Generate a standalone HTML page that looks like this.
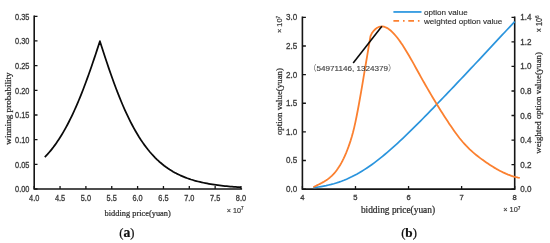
<!DOCTYPE html>
<html lang="en"><head><meta charset="utf-8"><title>Figure: winning probability and option value vs bidding price</title>
<style>
html,body{margin:0;padding:0;background:#fff;}
body{width:550px;height:243px;overflow:hidden;}
svg{display:block;}
.s{font-family:"Liberation Sans", "Noto Sans CJK SC", sans-serif;fill:#3a3a3a;stroke:#3a3a3a;stroke-width:0.2;}
.t{font-family:"Liberation Serif", "Noto Serif CJK SC", serif;fill:#2a2a2a;stroke:#2a2a2a;stroke-width:0.22;}
.ax{fill:none;stroke:#151515;stroke-width:1.6;stroke-linecap:square;}
.tk{fill:none;stroke:#151515;stroke-width:1.3;}
</style></head><body>
<svg width="550" height="243" viewBox="0 0 550 243">
<rect x="0" y="0" width="550" height="243" fill="#ffffff"/>
<g id="chart-a">
<path class="ax" d="M34.2,16.3 V189.0 H241.3"/>
<path class="tk" d="M34.2,189.00 h3.3 M34.2,164.33 h3.3 M34.2,139.66 h3.3 M34.2,114.99 h3.3 M34.2,90.31 h3.3 M34.2,65.64 h3.3 M34.2,40.97 h3.3 M34.2,16.30 h3.3 M34.20,189.0 v-3 M60.05,189.0 v-3 M85.90,189.0 v-3 M111.75,189.0 v-3 M137.60,189.0 v-3 M163.45,189.0 v-3 M189.30,189.0 v-3 M215.15,189.0 v-3 M241.00,189.0 v-3"/>
<g class="s" font-size="8.2" text-anchor="end" style="stroke-width:0.3">
<text transform="translate(29.4,192.20) scale(0.9,1)">0.00</text>
<text transform="translate(29.4,167.53) scale(0.9,1)">0.05</text>
<text transform="translate(29.4,142.86) scale(0.9,1)">0.10</text>
<text transform="translate(29.4,118.19) scale(0.9,1)">0.15</text>
<text transform="translate(29.4,93.51) scale(0.9,1)">0.20</text>
<text transform="translate(29.4,68.84) scale(0.9,1)">0.25</text>
<text transform="translate(29.4,44.17) scale(0.9,1)">0.30</text>
<text transform="translate(29.4,19.50) scale(0.9,1)">0.35</text>
</g>
<g class="s" font-size="8.2" text-anchor="middle" style="stroke-width:0.3">
<text transform="translate(34.20,201.1) scale(0.9,1)">4.0</text>
<text transform="translate(60.05,201.1) scale(0.9,1)">4.5</text>
<text transform="translate(85.90,201.1) scale(0.9,1)">5.0</text>
<text transform="translate(111.75,201.1) scale(0.9,1)">5.5</text>
<text transform="translate(137.60,201.1) scale(0.9,1)">6.0</text>
<text transform="translate(163.45,201.1) scale(0.9,1)">6.5</text>
<text transform="translate(189.30,201.1) scale(0.9,1)">7.0</text>
<text transform="translate(215.15,201.1) scale(0.9,1)">7.5</text>
<text transform="translate(241.00,201.1) scale(0.9,1)">8.0</text>
</g>
<text class="s" font-size="7.2" x="226.8" y="212.5">× 10<tspan font-size="4.6" dy="-2.1">7</tspan></text>
<text class="t" font-size="7.5" text-anchor="middle" transform="translate(10.5,108.5) rotate(-90) scale(1.22,1)">winning probability</text>
<text class="t" font-size="9.1" text-anchor="middle" transform="translate(137.7,215.7) scale(0.92,1)">bidding price(yuan)</text>
<text class="t" font-size="12.6" text-anchor="middle" x="126.8" y="236.6" style="fill:#111;stroke:#111">(<tspan font-weight="bold" font-size="13.6">a</tspan>)</text>
<path d="M44.80,157.17 L46.21,155.69 L47.63,154.14 L49.04,152.52 L50.45,150.84 L51.86,149.09 L53.28,147.27 L54.69,145.37 L56.10,143.40 L57.52,141.35 L58.93,139.22 L60.34,137.01 L61.75,134.72 L63.17,132.35 L64.58,129.89 L65.99,127.35 L67.41,124.72 L68.82,122.00 L70.23,119.20 L71.64,116.30 L73.06,113.32 L74.47,110.24 L75.88,107.08 L77.29,103.83 L78.71,100.49 L80.12,97.06 L81.53,93.55 L82.95,89.95 L84.36,86.27 L85.77,82.50 L87.18,78.66 L88.60,74.75 L90.01,70.76 L91.42,66.70 L92.84,62.58 L94.25,58.40 L95.66,54.17 L97.07,49.89 L98.49,45.56 L99.90,41.20 L101.69,46.77 L103.47,52.29 L105.26,57.73 L107.04,63.09 L108.83,68.36 L110.62,73.52 L112.40,78.56 L114.19,83.47 L115.97,88.25 L117.76,92.90 L119.55,97.40 L121.33,101.76 L123.12,105.97 L124.91,110.03 L126.69,113.94 L128.48,117.70 L130.26,121.31 L132.05,124.77 L133.84,128.09 L135.62,131.27 L137.41,134.31 L139.19,137.21 L140.98,139.98 L142.77,142.62 L144.55,145.13 L146.34,147.52 L148.12,149.80 L149.91,151.96 L151.70,154.01 L153.48,155.96 L155.27,157.81 L157.05,159.56 L158.84,161.22 L160.63,162.79 L162.41,164.28 L164.20,165.69 L165.98,167.02 L167.77,168.28 L169.56,169.47 L171.34,170.59 L173.13,171.65 L174.92,172.65 L176.70,173.60 L178.49,174.49 L180.27,175.33 L182.06,176.12 L183.85,176.87 L185.63,177.58 L187.42,178.25 L189.20,178.87 L190.99,179.47 L192.78,180.02 L194.56,180.55 L196.35,181.04 L198.13,181.51 L199.92,181.95 L201.71,182.37 L203.49,182.76 L205.28,183.12 L207.06,183.47 L208.85,183.80 L210.64,184.11 L212.42,184.40 L214.21,184.67 L215.99,184.93 L217.78,185.17 L219.57,185.40 L221.35,185.61 L223.14,185.82 L224.93,186.01 L226.71,186.19 L228.50,186.36 L230.28,186.52 L232.07,186.67 L233.86,186.81 L235.64,186.94 L237.43,187.07 L239.21,187.19 L241.00,187.30" fill="none" stroke="#0a0a0a" stroke-width="1.75" stroke-linejoin="round" stroke-linecap="butt"/>
</g>
<g id="chart-b">
<path class="ax" d="M302.4,17.4 V189.1 H514.7 V17.4"/>
<path class="tk" d="M302.4,189.10 h3.5 M302.4,160.48 h3.5 M302.4,131.87 h3.5 M302.4,103.25 h3.5 M302.4,74.63 h3.5 M302.4,46.02 h3.5 M302.4,17.40 h3.5 M514.7,189.10 h-3.2 M514.7,164.57 h-3.2 M514.7,140.04 h-3.2 M514.7,115.51 h-3.2 M514.7,90.99 h-3.2 M514.7,66.46 h-3.2 M514.7,41.93 h-3.2 M514.7,17.40 h-3.2 M302.40,189.1 v-3 M355.48,189.1 v-3 M408.55,189.1 v-3 M461.62,189.1 v-3 M514.70,189.1 v-3"/>
<g class="s" font-size="8.6" text-anchor="end" style="stroke-width:0.3">
<text transform="translate(297.3,192.10) scale(0.94,1)">0.0</text>
<text transform="translate(297.3,163.48) scale(0.94,1)">0.5</text>
<text transform="translate(297.3,134.87) scale(0.94,1)">1.0</text>
<text transform="translate(297.3,106.25) scale(0.94,1)">1.5</text>
<text transform="translate(297.3,77.63) scale(0.94,1)">2.0</text>
<text transform="translate(297.3,49.02) scale(0.94,1)">2.5</text>
<text transform="translate(297.3,20.40) scale(0.94,1)">3.0</text>
</g>
<g class="s" font-size="8.6" text-anchor="start" style="stroke-width:0.3">
<text transform="translate(520.3,192.10) scale(0.94,1)">0.0</text>
<text transform="translate(520.3,167.57) scale(0.94,1)">0.2</text>
<text transform="translate(520.3,143.04) scale(0.94,1)">0.4</text>
<text transform="translate(520.3,118.51) scale(0.94,1)">0.6</text>
<text transform="translate(520.3,93.99) scale(0.94,1)">0.8</text>
<text transform="translate(520.3,69.46) scale(0.94,1)">1.0</text>
<text transform="translate(520.3,44.93) scale(0.94,1)">1.2</text>
<text transform="translate(520.3,20.40) scale(0.94,1)">1.4</text>
</g>
<g class="s" font-size="7.6" text-anchor="middle" style="stroke-width:0.3">
<text x="302.40" y="200.2">4</text>
<text x="355.48" y="200.2">5</text>
<text x="408.55" y="200.2">6</text>
<text x="461.62" y="200.2">7</text>
<text x="514.70" y="200.2">8</text>
</g>
<text class="s" font-size="7.4" x="503.2" y="212.3">× 10<tspan font-size="4.8" dy="-2.7">7</tspan></text>
<text class="s" font-size="7.4" transform="translate(282.2,33) rotate(-90)">× 10<tspan font-size="4.6" dy="-2.2">7</tspan></text>
<text class="s" font-size="7.2" transform="translate(541.8,32.2) rotate(-90) scale(1,1.28)">× 10<tspan font-size="4.6" dy="-2.1">6</tspan></text>
<text class="t" font-size="8.85" text-anchor="middle" transform="translate(281.8,101.6) rotate(-90)">option value(yuan)</text>
<text class="t" font-size="8.86" text-anchor="middle" transform="translate(540.6,102.85) rotate(-90)">weighted option value(yuan)</text>
<text class="t" font-size="9.4" text-anchor="middle" x="398" y="212.5">bidding price(yuan)</text>
<text class="t" font-size="12.6" text-anchor="middle" x="409" y="236.6" style="fill:#111;stroke:#111">(<tspan font-weight="bold" font-size="13.2">b</tspan>)</text>
<path d="M313.40,187.74 L315.95,187.38 L318.50,186.99 L321.04,186.57 L323.59,186.11 L326.14,185.61 L328.69,185.04 L331.24,184.42 L333.78,183.73 L336.33,182.97 L338.88,182.15 L341.43,181.24 L343.98,180.26 L346.53,179.21 L349.07,178.07 L351.62,176.86 L354.17,175.57 L356.72,174.21 L359.27,172.76 L361.81,171.24 L364.36,169.65 L366.91,167.99 L369.46,166.25 L372.01,164.45 L374.55,162.58 L377.10,160.66 L379.65,158.67 L382.20,156.62 L384.75,154.52 L387.29,152.38 L389.84,150.18 L392.39,147.93 L394.94,145.65 L397.49,143.33 L400.04,140.96 L402.58,138.57 L405.13,136.14 L407.68,133.69 L410.23,131.21 L412.78,128.70 L415.32,126.18 L417.87,123.63 L420.42,121.07 L422.97,118.49 L425.52,115.90 L428.06,113.30 L430.61,110.68 L433.16,108.06 L435.71,105.43 L438.26,102.78 L440.81,100.14 L443.35,97.48 L445.90,94.82 L448.45,92.16 L451.00,89.49 L453.55,86.81 L456.09,84.13 L458.64,81.45 L461.19,78.76 L463.74,76.06 L466.29,73.36 L468.83,70.66 L471.38,67.95 L473.93,65.24 L476.48,62.52 L479.03,59.80 L481.57,57.07 L484.12,54.34 L486.67,51.61 L489.22,48.87 L491.77,46.13 L494.32,43.39 L496.86,40.66 L499.41,37.92 L501.96,35.19 L504.51,32.46 L507.06,29.75 L509.60,27.05 L512.15,24.37 L514.70,21.71" fill="none" stroke="#2a94dd" stroke-width="1.7" stroke-linecap="butt"/>
<path d="M313.40,187.18 L314.57,186.55 L315.73,185.95 L316.90,185.36 L318.06,184.78 L319.23,184.19 L320.39,183.60 L321.56,183.00 L322.72,182.37 L323.89,181.71 L325.05,181.01 L326.22,180.27 L327.38,179.47 L328.55,178.61 L329.71,177.68 L330.88,176.68 L332.04,175.59 L333.21,174.41 L334.38,173.12 L335.54,171.73 L336.71,170.23 L337.87,168.60 L339.04,166.84 L340.20,164.95 L341.37,162.90 L342.53,160.71 L343.70,158.35 L344.86,155.82 L346.03,153.12 L347.19,150.23 L348.36,147.15 L349.52,143.87 L350.69,140.36 L351.86,136.54 L353.02,132.32 L354.19,127.62 L355.35,122.42 L356.52,116.78 L357.68,110.78 L358.85,104.49 L360.01,97.99 L361.18,91.33 L362.34,84.53 L363.51,77.65 L364.67,70.71 L365.84,63.74 L367.00,56.78 L368.17,49.85 L369.33,42.97 L370.50,36.17 L372.18,32.71 L373.86,30.64 L375.53,29.01 L377.21,27.80 L378.89,26.99 L380.57,26.56 L382.24,26.47 L383.92,26.72 L385.60,27.27 L387.28,28.10 L388.95,29.19 L390.63,30.53 L392.31,32.07 L393.99,33.81 L395.66,35.73 L397.34,37.80 L399.02,40.03 L400.70,42.39 L402.37,44.87 L404.05,47.47 L405.73,50.16 L407.41,52.94 L409.08,55.80 L410.76,58.71 L412.44,61.68 L414.12,64.68 L415.79,67.71 L417.47,70.75 L419.15,73.79 L420.83,76.82 L422.50,79.82 L424.18,82.80 L425.86,85.74 L427.54,88.66 L429.21,91.55 L430.89,94.41 L432.57,97.23 L434.25,100.03 L435.92,102.80 L437.60,105.54 L439.28,108.25 L440.96,110.93 L442.63,113.58 L444.31,116.20 L445.99,118.79 L447.67,121.35 L449.34,123.88 L451.02,126.36 L452.70,128.81 L454.38,131.20 L456.05,133.52 L457.73,135.77 L459.41,137.95 L461.09,140.03 L462.76,142.01 L464.44,143.90 L466.12,145.71 L467.80,147.42 L469.47,149.06 L471.15,150.63 L472.83,152.14 L474.51,153.58 L476.18,154.96 L477.86,156.30 L479.54,157.60 L481.22,158.86 L482.89,160.08 L484.57,161.28 L486.25,162.45 L487.93,163.60 L489.60,164.71 L491.28,165.80 L492.96,166.85 L494.64,167.86 L496.31,168.85 L497.99,169.79 L499.67,170.69 L501.35,171.56 L503.02,172.38 L504.70,173.15 L506.38,173.89 L508.06,174.57 L509.73,175.20 L511.41,175.79 L513.09,176.32 L514.77,176.80 L516.44,177.22 L518.12,177.59 L519.80,177.90" fill="none" stroke="#fb8030" stroke-width="1.8" stroke-linejoin="round" stroke-linecap="butt"/>
<path d="M381.9,26.2 L353.2,63" fill="none" stroke="#0a0a0a" stroke-width="1.6"/>
<text class="s" font-size="8.1" x="308.5" y="70.7" style="fill:#444;stroke:#444;stroke-width:0.15"><tspan style="fill:#666;stroke:none">（</tspan>54971146, 1324379<tspan style="fill:#666;stroke:none">）</tspan></text>
<path d="M393.4,11.95 H421.5" fill="none" stroke="#3c9fe2" stroke-width="1.9"/>
<path d="M393.4,20.9 H421.5" fill="none" stroke="#fb8030" stroke-width="1.9" stroke-dasharray="5.7 3.9 1.6 3.7"/>
<text class="s" font-size="8.1" x="424" y="14.5" style="fill:#2c2c2c;stroke:#2c2c2c;stroke-width:0.12">option value</text>
<text class="s" font-size="8.1" x="424" y="23.6" style="fill:#2c2c2c;stroke:#2c2c2c;stroke-width:0.12">weighted option value</text>
</g>
</svg>
</body></html>
